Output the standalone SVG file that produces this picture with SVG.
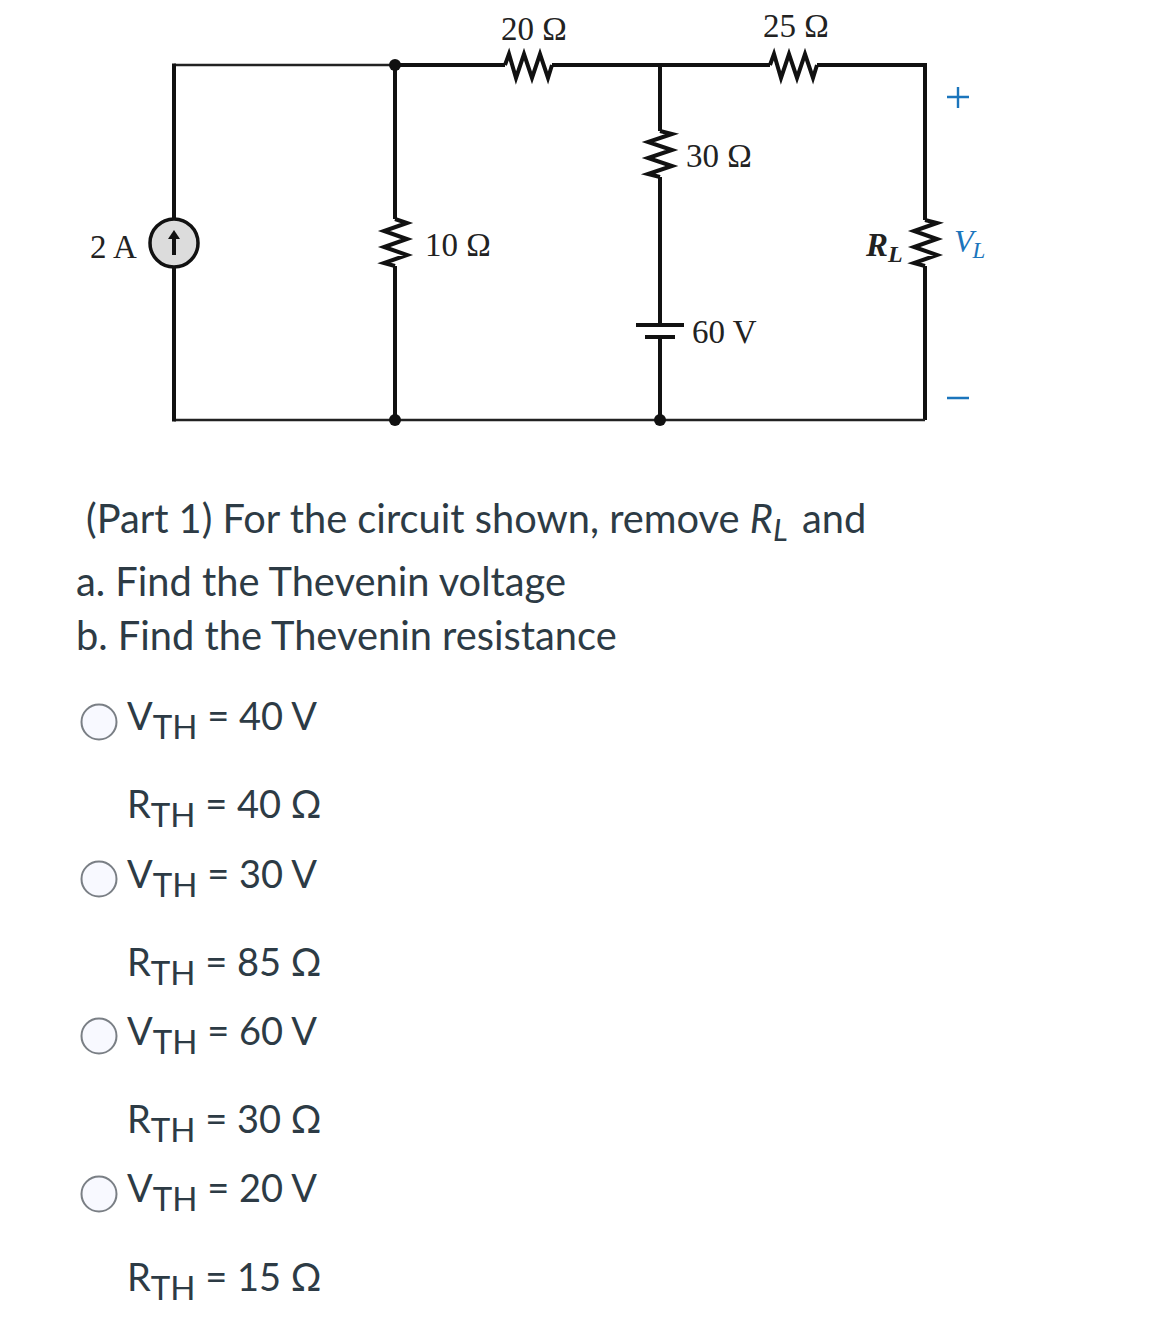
<svg xmlns="http://www.w3.org/2000/svg" width="1170" height="1339" viewBox="0 0 1170 1339">
<style>
.w{fill:none;stroke:#111;stroke-width:4}
.t{fill:none;stroke:#222;stroke-width:2.6}
.r{fill:none;stroke:#111;stroke-width:4;stroke-linejoin:miter}
.c{font-family:"Liberation Serif",serif;font-size:33px;fill:#222}
.b{font-family:"Liberation Serif",serif;font-size:32px;fill:#1b75bc}
.x{font-family:Lato,sans-serif;font-size:39.8px;fill:#2d3b45}
.y{font-family:Lato,sans-serif;font-size:38px;fill:#2d3b45}
.s{font-size:33px}
.o{fill:#f8f9ff;stroke:#7a7f85;stroke-width:2}
.d{fill:#111}
</style>
<rect width="1170" height="1339" fill="#fff"/>
<g id="connectors">
<path class="t" d="M174 65H395"/>
<path class="w" d="M395 65H505M552 65H770M817 65H925V220M925 266V420"/>
<path class="t" d="M174 420H925"/>
<path class="w" d="M174 63.5V219M174 267V421.500M395 65V219M395 266V420M660 65V131M660 177V325M660 337V420"/>
</g>
<g id="source"><circle cx="174" cy="243" r="24" fill="#dcdcdc" stroke="#111" stroke-width="3.5"/><path class="w" d="M174 255V236"/><path d="M174 230L168 239H180Z" class="d"/><text class="c" x="90" y="258">2 A</text></g>
<g id="r20"><path class="r" d="M505 65L509 54L516 78L524 54L532 78L540 54L548 78L552 65"/><text class="c" x="501" y="40">20 Ω</text></g>
<g id="r25"><path class="r" d="M770 65L774 54L781 78L789 54L797 78L805 54L813 78L817 65"/><text class="c" x="763" y="37">25 Ω</text></g>
<g id="r10"><path class="r" d="M395 219L407 223L384 231L407 239L384 247L407 255L384 263L395 266"/><text class="c" x="425" y="256">10 Ω</text></g>
<g id="r30"><path class="r" d="M660 131L672 134L648 142L672 150L648 158L672 166L648 174L660 177"/><text class="c" x="686" y="167">30 Ω</text></g>
<g id="battery"><path class="w" d="M636 325H684M645 337H675"/><text class="c" x="692" y="343">60 V</text></g>
<g id="rl"><path class="r" d="M925 220L937 223L914 231L937 239L914 247L937 255L914 263L925 266"/><text class="c" font-weight="bold" font-style="italic" x="866" y="256">R<tspan font-size="24" dy="6">L</tspan></text></g>
<g id="vl"><path d="M947 97H969M958 87V108M947 398H969" fill="none" stroke="#1b75bc" stroke-width="2.4"/><text class="b" font-style="italic" x="954" y="252">V<tspan font-size="23" dy="6" dx="-1">L</tspan></text></g>
<g id="question">
<text class="x" x="86" y="533">(Part 1) For the circuit shown, remove <tspan font-style="italic">R</tspan><tspan font-style="italic" dy="8" font-size="31">L</tspan><tspan dy="-8" dx="4"> and</tspan></text>
<text class="x" x="76" y="596">a. Find the Thevenin voltage</text>
<text class="x" x="76" y="650">b. Find the Thevenin resistance</text>
</g>
<g id="opt1"><circle class="o" cx="99" cy="722" r="17.5"/><text class="y" x="127" y="730">V<tspan class="s" dy="9">TH</tspan><tspan dy="-9"> = 40 V</tspan></text><text class="y" x="127" y="818">R<tspan class="s" dy="9">TH</tspan><tspan dy="-9"> = 40 Ω</tspan></text></g>
<g id="opt2"><circle class="o" cx="99" cy="879" r="17.5"/><text class="y" x="127" y="888">V<tspan class="s" dy="9">TH</tspan><tspan dy="-9"> = 30 V</tspan></text><text class="y" x="127" y="976">R<tspan class="s" dy="9">TH</tspan><tspan dy="-9"> = 85 Ω</tspan></text></g>
<g id="opt3"><circle class="o" cx="99" cy="1036" r="17.5"/><text class="y" x="127" y="1045">V<tspan class="s" dy="9">TH</tspan><tspan dy="-9"> = 60 V</tspan></text><text class="y" x="127" y="1133">R<tspan class="s" dy="9">TH</tspan><tspan dy="-9"> = 30 Ω</tspan></text></g>
<g id="opt4"><circle class="o" cx="99" cy="1194" r="17.5"/><text class="y" x="127" y="1202">V<tspan class="s" dy="9">TH</tspan><tspan dy="-9"> = 20 V</tspan></text><text class="y" x="127" y="1291">R<tspan class="s" dy="9">TH</tspan><tspan dy="-9"> = 15 Ω</tspan></text></g>
<g id="junctions"><circle class="d" cx="395" cy="65" r="6"/><circle class="d" cx="395" cy="420" r="6"/><circle class="d" cx="660" cy="420" r="6"/></g>
</svg>
